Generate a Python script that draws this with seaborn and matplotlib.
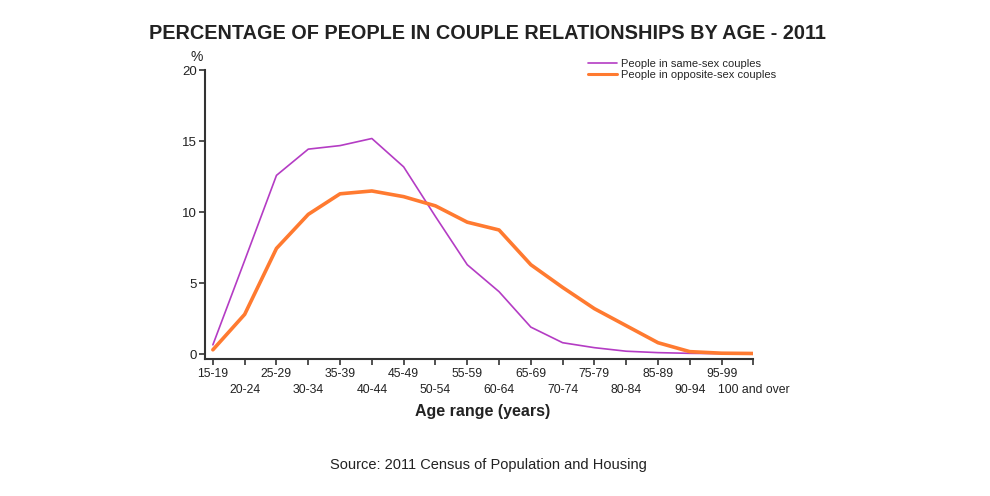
import matplotlib
matplotlib.use("Agg")
import matplotlib.pyplot as plt
import seaborn as sns
import pandas as pd

ages = ["15-19", "20-24", "25-29", "30-34", "35-39", "40-44", "45-49", "50-54",
        "55-59", "60-64", "65-69", "70-74", "75-79", "80-84", "85-89", "90-94",
        "95-99", "100 and over"]
same_sex = [0.65, 6.6, 12.6, 14.45, 14.7, 15.2, 13.2, 9.7, 6.3, 4.4, 1.9, 0.8,
            0.45, 0.2, 0.1, 0.05, 0.03, 0.02]
opposite_sex = [0.3, 2.8, 7.45, 9.85, 11.3, 11.5, 11.1, 10.45, 9.3, 8.75, 6.3,
                4.7, 3.2, 2.0, 0.8, 0.17, 0.06, 0.04]
series_names = ["People in same-sex couples", "People in opposite-sex couples"]
y_ticks = [0, 5, 10, 15, 20]

sns.set_theme(style="white")
plt.rcParams["font.family"] = ["Liberation Sans", "DejaVu Sans"]

df = pd.DataFrame({
    "age": ages * 2,
    "value": same_sex + opposite_sex,
    "series": [series_names[0]] * len(ages) + [series_names[1]] * len(ages),
})

fig = plt.figure(figsize=(9.9, 4.96), dpi=100)
ax = fig.add_axes([0.207, 0.2756, 0.554, 0.5824])

palette = {series_names[0]: "#b43cc4", series_names[1]: "#ff7a30"}
sns.lineplot(data=df, x="age", y="value", hue="series", palette=palette,
             sort=False, ax=ax, legend=False)
lines = ax.get_lines()
lines[0].set_linewidth(1.2)
lines[1].set_linewidth(2.6)

ax.set_xlim(-0.25, len(ages) - 1)
ax.set_ylim(-0.37, 20)
ax.set_yticks(y_ticks)
ax.set_yticklabels([str(v) for v in y_ticks], fontsize=9.5, color="#222222")
even = list(range(0, len(ages), 2))
odd = list(range(1, len(ages), 2))
ax.set_xticks(even)
ax.set_xticklabels([ages[i] for i in even], fontsize=8.8, color="#222222")
ax.set_xticks(odd, minor=True)
ax.set_xticklabels([ages[i] for i in odd], minor=True, fontsize=8.8, color="#222222")
for side in ["top", "right"]:
    ax.spines[side].set_visible(False)
for side in ["left", "bottom"]:
    ax.spines[side].set_color("#333333")
    ax.spines[side].set_linewidth(1.5)
ax.tick_params(axis="both", which="major", direction="out", length=4, width=1.2,
               color="#333333", left=True, bottom=True, pad=2)
ax.tick_params(axis="x", which="minor", direction="out", length=4, width=1.2,
               color="#333333", bottom=True, pad=13.5)
ax.set_xlabel("")
ax.set_ylabel("")
ax.grid(False)

leg_handles = [plt.Line2D([], [], color=palette[series_names[0]], lw=1.2),
               plt.Line2D([], [], color=palette[series_names[1]], lw=2.2)]
ax.legend(leg_handles, series_names, loc="upper left", bbox_to_anchor=(0.69, 1.055),
          frameon=False, prop={"size": 8}, handlelength=2.6,
          handletextpad=0.4, labelspacing=0.1, borderaxespad=0)

fig.text(0.199, 0.885, "%", fontsize=10, ha="center", va="center", color="#222222")
fig.text(0.492, 0.932, "PERCENTAGE OF PEOPLE IN COUPLE RELATIONSHIPS BY AGE - 2011",
         fontsize=14.3, fontweight="bold", ha="center", va="center", color="#222222")
fig.text(0.488, 0.171, "Age range (years)", fontsize=11.5, fontweight="bold",
         ha="center", va="center", color="#222222")
fig.text(0.493, 0.062, "Source: 2011 Census of Population and Housing", fontsize=10.5,
         ha="center", va="center", color="#222222")

fig.savefig("out.png", dpi=100, facecolor="white")
